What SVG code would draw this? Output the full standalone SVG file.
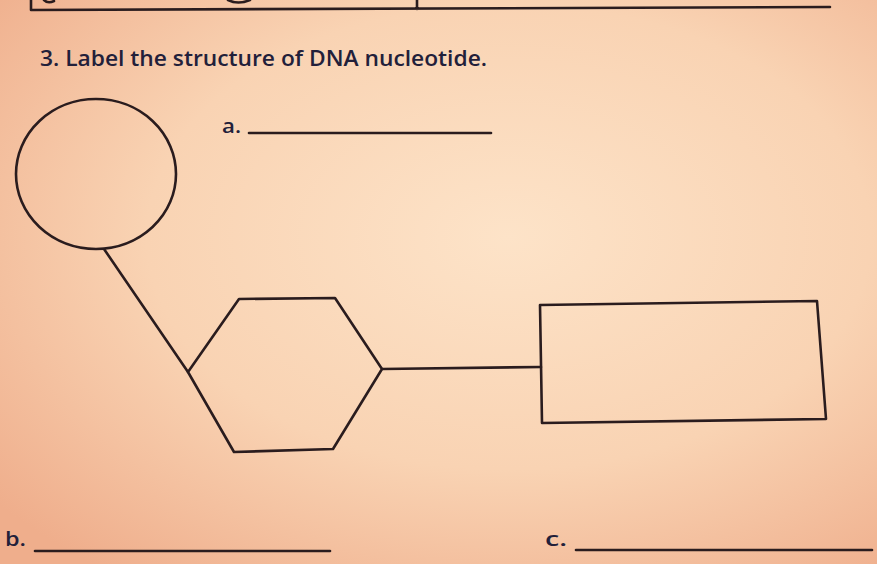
<svg xmlns="http://www.w3.org/2000/svg" width="877" height="564" viewBox="0 0 877 564">
  <defs>
    <radialGradient id="bg" cx="0.58" cy="0.42" r="0.75">
      <stop offset="0" stop-color="#fde3c8"/>
      <stop offset="0.55" stop-color="#f9d3b3"/>
      <stop offset="1" stop-color="#efae8c"/>
    </radialGradient>
    <style>
      .ink { fill: none; stroke: #2a1c1e; stroke-width: 2.6; stroke-linejoin: round; stroke-linecap: round; }
      .txt { font-family: "Open Sans", "Liberation Sans", sans-serif; fill: #22203a; }
      .title { font-size: 22px; font-weight: 600; }
      .lbl { font-size: 19px; font-weight: 600; }
    </style>
  </defs>
  <rect width="877" height="564" fill="url(#bg)"/>

  <g id="table-fragment">
    <path class="ink" d="M31,0 V10 M31,10 L830,7 M417,0 V9"/>
    <path class="ink" d="M228,0 Q238,5 250,0"/>
    <path class="ink" d="M44,0 Q48,4 54,1"/>
  </g>

  <text class="txt title" x="40" y="66" textLength="447" lengthAdjust="spacingAndGlyphs">3. Label the structure of DNA nucleotide.</text>

  <g id="connectors">
    <line class="ink" x1="104" y1="249" x2="188" y2="372"/>
    <line class="ink" x1="382" y1="369" x2="541" y2="367"/>
  </g>

  <g id="phosphate">
    <ellipse class="ink" cx="96" cy="174" rx="80" ry="75"/>
  </g>

  <g id="sugar">
    <polygon class="ink" points="239,299 335,298 382,369 333,449 234,452 188,372"/>
  </g>

  <g id="base">
    <polygon class="ink" points="540,305 817,301 826,419 542,423"/>
  </g>

  <g id="label-a">
    <text class="txt lbl" x="222" y="133" font-size="17" textLength="19" lengthAdjust="spacingAndGlyphs">a.</text>
    <line class="ink" x1="249" y1="133" x2="491" y2="133"/>
  </g>

  <g id="label-b">
    <text class="txt lbl" x="5" y="546" textLength="21" lengthAdjust="spacingAndGlyphs">b.</text>
    <line class="ink" x1="35" y1="551" x2="330" y2="551"/>
  </g>

  <g id="label-c">
    <text class="txt lbl" x="545" y="546" textLength="22" lengthAdjust="spacingAndGlyphs">c.</text>
    <line class="ink" x1="576" y1="550" x2="872" y2="550"/>
  </g>
</svg>
